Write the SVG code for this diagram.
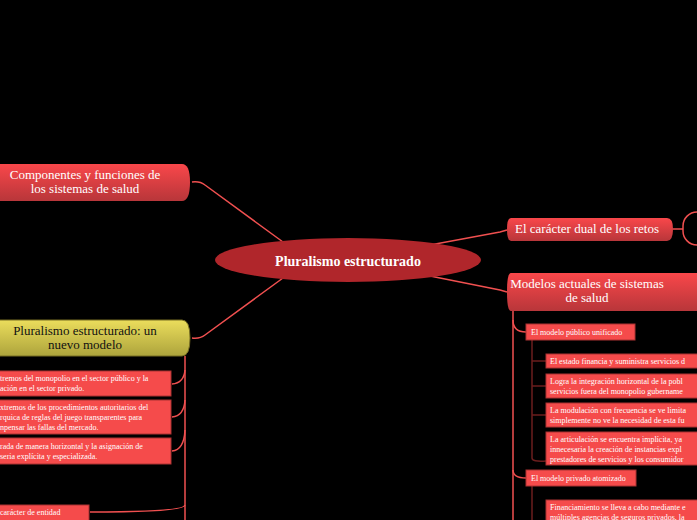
<svg xmlns="http://www.w3.org/2000/svg" width="697" height="520" viewBox="0 0 697 520">
<defs>
<linearGradient id="rg" x1="0" y1="0" x2="0" y2="1"><stop offset="0" stop-color="#f9474a"/><stop offset="1" stop-color="#b8363a"/></linearGradient>
<linearGradient id="yg" x1="0" y1="0" x2="0" y2="1"><stop offset="0" stop-color="#ebdd5c"/><stop offset="1" stop-color="#ada43c"/></linearGradient>
</defs>
<style>
.t{font-family:"Liberation Serif",serif;fill:#fff}
.m{font-size:13px}
.s{font-size:8px}
.box{fill:#f54b4b;stroke:#a33;stroke-width:1}
.c{fill:none;stroke:#f05050;stroke-width:1.5}
.d{fill:none;stroke:#6b1e1e;stroke-width:1.5}
</style>
<rect width="697" height="520" fill="#000"/>
<g id="connectors">
<path class="c" d="M283 242 L205 185 Q200 181 192 182"/>
<path class="c" d="M283 278 L205 335 Q200 339 192 338"/>
<path class="c" d="M430 245 L500 232 L507 230"/>
<path class="c" d="M430 276 L500 290 L507 292"/>
<path class="c" d="M673 229 L683 229"/>
<path class="c" d="M185 356 L185 520"/>
<path class="c" d="M185 370 Q184 383 172 384"/>
<path class="c" d="M185 400 Q184 416 172 417"/>
<path class="c" d="M185 430 Q184 450 172 451"/>
<path class="c" d="M185 505 Q184 512 90 512"/>
<path class="c" d="M513 311 L513 520"/>
<path class="c" d="M513 320 Q513 332 526 332"/>
<path class="c" d="M513 470 Q513 478 526 478"/>
<path class="d" d="M532 340 L532 458 Q532 462 546 461"/>
<path class="d" d="M532 361 L546 361 M532 386 L546 386 M532 415 L546 415"/>
<path class="d" d="M532 486 L532 520"/>
</g>
<g id="center"><ellipse cx="348" cy="260" rx="133" ry="22" fill="#b0262b"/><text class="t" x="348" y="266" text-anchor="middle" font-size="14" font-weight="bold">Pluralismo estructurado</text></g>
<g id="n-componentes"><path d="M-10 164 H182 Q190 164 190 182 Q190 201 182 201 H-10 Z" fill="url(#rg)"/><text class="t m" x="85" y="179" text-anchor="middle">Componentes y funciones de</text><text class="t m" x="85" y="193" text-anchor="middle">los sistemas de salud</text></g>
<g id="n-pluralismo"><path d="M-10 320 H182 Q190 320 190 338 Q190 356 182 356 H-10 Z" fill="url(#yg)" stroke="#776d22"/><text class="t m" x="85" y="335" text-anchor="middle" style="fill:#111">Pluralismo estructurado: un</text><text class="t m" x="85" y="349" text-anchor="middle" style="fill:#111">nuevo modelo</text></g>
<g id="l1"><rect class="box" x="-5" y="371" width="176" height="25"/><text class="t s" x="0" y="381">tremos del monopolio en el sector público y la</text><text class="t s" x="0" y="391">ación en el sector privado.</text></g>
<g id="l2"><rect class="box" x="-5" y="400" width="176" height="34"/><text class="t s" x="0" y="410">xtremos de los procedimientos autoritarios del</text><text class="t s" x="0" y="420">rquica de reglas del juego transparentes para</text><text class="t s" x="0" y="430">npensar las fallas del mercado.</text></g>
<g id="l3"><rect class="box" x="-5" y="438" width="176" height="26"/><text class="t s" x="0" y="449">rada de manera horizontal y la asignación de</text><text class="t s" x="0" y="459">seria explícita y especializada.</text></g>
<g id="l4"><rect class="box" x="-5" y="505" width="94" height="20"/><text class="t s" x="0" y="515">carácter de entidad</text></g>
<g id="n-dual"><path d="M511 218 H667 Q673 218 673 229 Q673 241 667 241 H511 Q507 241 507 229 Q507 218 511 218 Z" fill="url(#rg)"/><text class="t m" x="587" y="233" text-anchor="middle">El carácter dual de los retos</text></g>
<g id="n-dual-child"><rect x="683" y="212" width="40" height="33" rx="14" fill="none" stroke="#f05050" stroke-width="1.5"/></g>
<g id="n-modelos"><path d="M511 273 H705 V311 H511 Q507 311 507 292 Q507 273 511 273 Z" fill="url(#rg)"/><text class="t m" x="587" y="288" text-anchor="middle">Modelos actuales de sistemas</text><text class="t m" x="587" y="302" text-anchor="middle">de salud</text></g>
<g id="r1"><rect class="box" x="526" y="324" width="109" height="16"/><text class="t s" x="531" y="335">El modelo público unificado</text></g>
<g id="r1a"><rect class="box" x="546" y="354" width="160" height="14"/><text class="t s" x="550" y="364">El estado financia y suministra servicios d</text></g>
<g id="r1b"><rect class="box" x="546" y="374" width="160" height="24"/><text class="t s" x="550" y="384">Logra la integración horizontal de la pobl</text><text class="t s" x="550" y="394">servicios fuera del monopolio gubername</text></g>
<g id="r1c"><rect class="box" x="546" y="403" width="160" height="24"/><text class="t s" x="550" y="413">La modulación con frecuencia se ve limita</text><text class="t s" x="550" y="423">simplemente no ve la necesidad de esta fu</text></g>
<g id="r1d"><rect class="box" x="546" y="432" width="160" height="33"/><text class="t s" x="550" y="442">La articulación se encuentra implícita, ya</text><text class="t s" x="550" y="452">innecesaria la creación de instancias expl</text><text class="t s" x="550" y="462">prestadores de servicios y los consumidor</text></g>
<g id="r2"><rect class="box" x="526" y="470" width="110" height="16"/><text class="t s" x="531" y="481">El modelo privado atomizado</text></g>
<g id="r2a"><rect class="box" x="546" y="500" width="160" height="25"/><text class="t s" x="550" y="510">Financiamiento se lleva a cabo mediante e</text><text class="t s" x="550" y="520">múltiples agencias de seguros privados, la</text></g>
</svg>
